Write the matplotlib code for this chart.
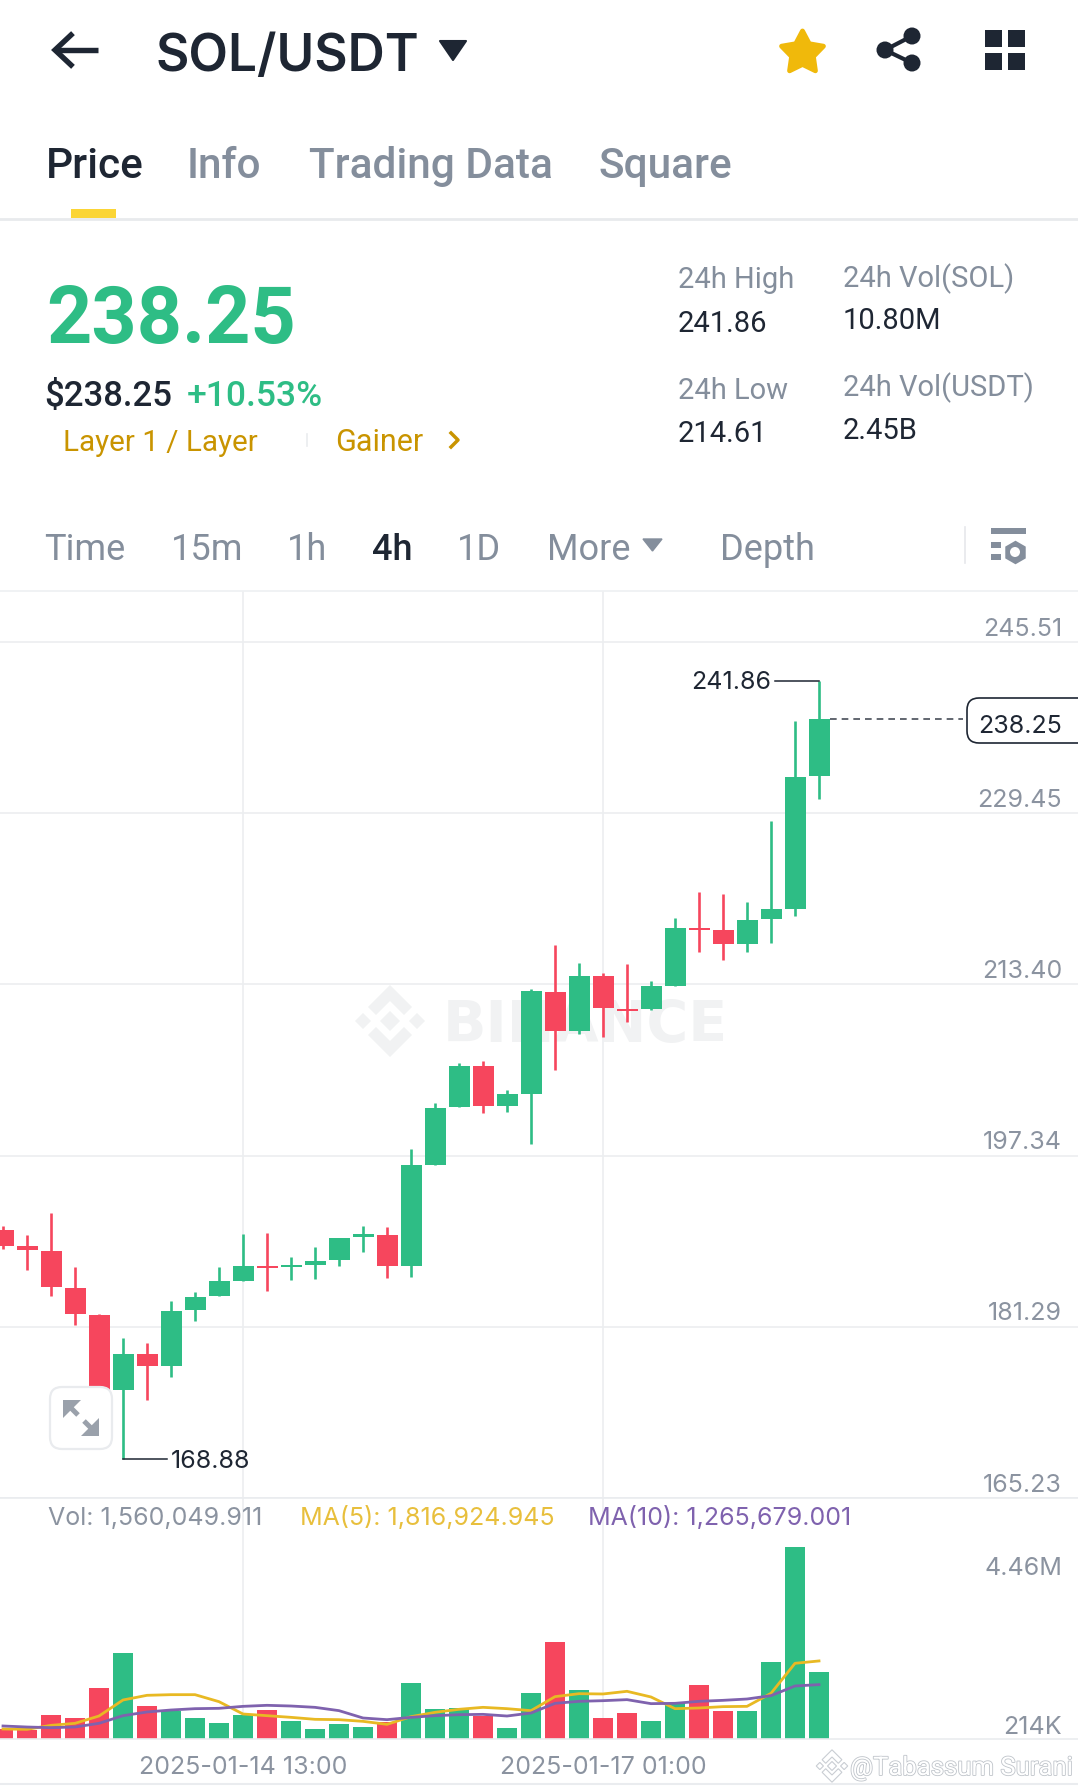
"""Tela do par SOL/USDT: candles de 4h, volume e médias móveis."""

import math

import matplotlib

matplotlib.use("Agg")
import matplotlib.patheffects as pe
import matplotlib.pyplot as plt
from matplotlib.patches import Circle, FancyBboxPatch, Polygon, Rectangle

plt.rcParams["font.family"] = ["Roboto", "DejaVu Sans"]

LARGURA, ALTURA = 1078, 1787

# Candles, um valor por barra de 4h
abertura = [190.38, 188.82, 188.41, 184.91, 182.38, 175.38, 178.72, 177.57, 182.82,
            184.16, 185.60, 186.97, 186.85, 187.07, 187.57, 189.72, 189.91, 186.94,
            196.47, 201.85, 205.78, 201.94, 203.13, 212.69, 209.03, 214.13, 211.07,
            211.07, 213.25, 218.66, 218.50, 217.13, 219.51, 220.48, 232.89]
maxima = [190.69, 189.91, 191.94, 186.91, 182.44, 180.25, 179.72, 183.72, 184.53,
          186.85, 190.00, 190.03, 187.82, 188.72, 189.63, 190.69, 190.63, 197.94,
          202.25, 205.97, 206.22, 203.44, 212.94, 217.07, 215.38, 214.44, 215.28,
          213.75, 219.63, 222.03, 221.85, 221.13, 228.73, 238.11, 241.86]
minima = [188.57, 186.57, 184.13, 181.44, 175.32, 168.88, 174.44, 176.57, 181.85,
          184.16, 185.60, 184.66, 185.69, 185.78, 187.00, 188.32, 185.82, 185.94,
          196.41, 201.85, 201.32, 201.44, 198.44, 205.32, 208.78, 208.50, 209.82,
          210.94, 213.25, 216.38, 215.63, 216.44, 217.26, 219.82, 230.73]
fechamento = [188.88, 188.50, 185.00, 182.44, 175.38, 178.72, 177.57, 182.78, 184.10,
              185.53, 186.97, 186.75, 187.07, 187.47, 189.63, 189.94, 186.94, 196.44,
              201.82, 205.78, 201.94, 203.07, 212.72, 209.03, 214.13, 211.13, 210.85,
              213.19, 218.69, 218.47, 217.13, 219.44, 220.42, 232.86, 238.25]

# Volume em milhões, com cor herdada do candle
volume = [0.233, 0.210, 0.559, 0.489, 1.195, 2.002, 0.768, 0.660, 0.489, 0.365, 0.551,
          0.675, 0.427, 0.233, 0.357, 0.287, 0.388, 1.296, 0.698, 0.714, 0.535, 0.256,
          1.079, 2.250, 1.133, 0.481, 0.598, 0.419, 0.830, 1.249, 0.644, 0.644, 1.785,
          4.470, 1.560]
ma5 = [0.233, 0.225, 0.318, 0.365, 0.535, 0.908, 1.017, 1.032, 1.032, 0.869, 0.582,
       0.543, 0.504, 0.458, 0.450, 0.411, 0.341, 0.520, 0.621, 0.691, 0.737, 0.706,
       0.660, 0.986, 1.055, 1.048, 1.110, 0.978, 0.706, 0.722, 0.753, 0.760, 1.063,
       1.762, 1.817]
ma10 = [0.303, 0.279, 0.264, 0.279, 0.365, 0.543, 0.629, 0.675, 0.706, 0.714, 0.760,
        0.784, 0.768, 0.737, 0.660, 0.489, 0.450, 0.504, 0.543, 0.566, 0.574, 0.535,
        0.605, 0.830, 0.877, 0.892, 0.916, 0.823, 0.830, 0.877, 0.900, 0.931, 1.009,
        1.234, 1.266]

precos_eixo = [245.51, 229.45, 213.40, 197.34, 181.29, 165.23]
datas_indice = [10, 25]
datas_texto = ["2025-01-14 13:00", "2025-01-17 01:00"]
volume_eixo = [4.46, 0.214]
volume_texto = ["4.46M", "214K"]

abas = ["Price", "Info", "Trading Data", "Square"]
abas_x = [46, 187, 309, 598]
periodos = ["Time", "15m", "1h", "4h", "1D", "More", "Depth"]
periodos_x = [44, 171, 287, 372, 457, 547, 720]

VERDE = "#2EBD85"
VERMELHO = "#F6465D"
ESCURO = "#1E2633"
CINZA = "#848E9C"
CINZA_EIXO = "#8B93A0"
GRADE = "#ECEEF0"
OURO = "#C99400"
AMARELO = "#F0B90B"
ROXO = "#7F62AE"
FONTE_NUM = "Inter"


def eixo_px(fig, topo, base, zorder=1):
    """Cria um eixo de largura total entre duas linhas de pixel."""
    return fig.add_axes(
        [0, 1 - base / ALTURA, 1, (base - topo) / ALTURA], zorder=zorder, facecolor="none"
    )


def limpa(ax):
    for lado in ax.spines.values():
        lado.set_visible(False)
    ax.tick_params(length=0, labelleft=False, labelbottom=False)


def logo(ax, cx, cy, esc, fc, ec="none", lw=0):
    """Losangos do logotipo da corretora, centrados em (cx, cy)."""
    formas = [
        [(0, -10), (10, 0), (0, 10), (-10, 0)],
        [(-27, -8), (-19, 0), (-27, 8), (-35, 0)],
        [(27, -8), (35, 0), (27, 8), (19, 0)],
        [(-22, -14), (0, -36), (22, -14), (14, -6), (0, -20), (-14, -6)],
        [(-22, 14), (0, 36), (22, 14), (14, 6), (0, 20), (-14, 6)],
    ]
    for forma in formas:
        pontos = [(cx + x * esc, cy + y * esc) for x, y in forma]
        ax.add_patch(Polygon(pontos, closed=True, fc=fc, ec=ec, lw=lw))


def estrela(ax, cx, cy, raio, cor):
    """Estrela gorda de pontas arredondadas."""
    pontos = []
    for k in range(10):
        r = raio if k % 2 == 0 else raio * 0.52
        ang = math.radians(-90 + 36 * k)
        pontos.append((cx + r * math.cos(ang), cy + r * math.sin(ang)))
    ax.add_patch(Polygon(pontos, closed=True, fc=cor, ec=cor, lw=3.5, joinstyle="round"))


fig = plt.figure(figsize=(LARGURA / 100, ALTURA / 100), dpi=100, facecolor="white")

fundo = eixo_px(fig, 0, ALTURA, zorder=0)
fundo.set_xlim(0, LARGURA)
fundo.set_ylim(ALTURA, 0)
fundo.axis("off")
logo(fundo, 390, 1021, 1, "#F1F2F3")
fundo.text(443, 1042, "BINANCE", fontsize=41, fontweight="bold", color="#F1F2F3",
           va="baseline", family="DejaVu Sans")

# Painel de preço: 10.665 px por dólar, 591 até 1498
ax = eixo_px(fig, 591, 1498)
ax.set_ylim(165.23, 250.27)
ax.set_xlim(-3 / 24, (LARGURA - 3) / 24)
limpa(ax)
ax.set_yticks(precos_eixo)
ax.set_xticks(datas_indice)
ax.grid(True, color=GRADE, lw=1.2)
ax.set_axisbelow(True)

indices = list(range(len(abertura)))
cores = [VERDE if c >= a else VERMELHO for a, c in zip(abertura, fechamento)]
ax.vlines(indices, minima, maxima, colors=cores, lw=1.9, zorder=2)
ax.bar(
    indices,
    [max(abs(c - a), 0.2) for a, c in zip(abertura, fechamento)],
    bottom=[min(a, c) for a, c in zip(abertura, fechamento)],
    width=0.875,
    color=cores,
    zorder=3,
)

for preco in precos_eixo:
    ax.annotate(
        f"{preco:.2f}",
        xy=(1, preco),
        xycoords=("axes fraction", "data"),
        xytext=(-11.5, 4.5),
        textcoords="offset points",
        ha="right",
        va="baseline",
        fontsize=18,
        color=CINZA_EIXO,
        family=FONTE_NUM,
    )

# Máxima, mínima e último preço
i_max = maxima.index(max(maxima))
i_min = minima.index(min(minima))
ax.plot([i_max, i_max - 1.85], [maxima[i_max]] * 2, color=ESCURO, lw=1.1, zorder=4)
ax.plot([i_min, i_min + 1.85], [minima[i_min]] * 2, color=ESCURO, lw=1.1, zorder=4)
ax.annotate(f"{maxima[i_max]:.2f}", xy=(i_max - 2.0, maxima[i_max]), xytext=(0, -1.5),
            textcoords="offset points", ha="right", va="center", fontsize=18, color=ESCURO,
            zorder=5, family=FONTE_NUM)
ax.annotate(f"{minima[i_min]:.2f}", xy=(i_min + 2.0, minima[i_min]), xytext=(0, -1.5),
            textcoords="offset points", ha="left", va="center", fontsize=18, color=ESCURO,
            zorder=5, family=FONTE_NUM)
ax.plot([len(abertura) - 0.55, 40], [fechamento[-1]] * 2, color="#474D57", lw=1.2,
        ls=(0, (4, 3)), zorder=4)

# Painel de volume
vol = eixo_px(fig, 1498, 1739)
vol.set_ylim(0, 5.61)
vol.set_xlim(ax.get_xlim())
limpa(vol)
vol.set_yticks([])
vol.set_xticks(datas_indice, datas_texto, family=FONTE_NUM)
vol.tick_params(labelbottom=True, pad=12, labelsize=18, labelcolor=CINZA_EIXO)
vol.grid(True, axis="x", color=GRADE, lw=1.2)
vol.set_axisbelow(True)
vol.bar(indices, volume, width=0.86, color=cores, zorder=2)
vol.plot(indices, ma5, color="#E8B923", lw=2, zorder=3, solid_joinstyle="round")
vol.plot(indices, ma10, color=ROXO, lw=2, zorder=4, solid_joinstyle="round")

for valor, texto, desloc in zip(volume_eixo, volume_texto, [-20, -3]):
    vol.annotate(texto, xy=(1, valor), xycoords=("axes fraction", "data"), xytext=(-11.5, desloc),
                 textcoords="offset points", ha="right", va="baseline", fontsize=18,
                 color=CINZA_EIXO, family=FONTE_NUM)

# Camada de interface em pixels
ui = eixo_px(fig, 0, ALTURA, zorder=5)
ui.set_xlim(0, LARGURA)
ui.set_ylim(ALTURA, 0)
ui.axis("off")

for y, cor, esp in [(219, "#E8EAED", 2.0), (591, "#EEF0F2", 1.2), (1498, "#EAECEF", 1.2),
                    (1739, "#EAECEF", 1.2), (1784, "#EAECEF", 1.5)]:
    ui.plot([0, LARGURA], [y, y], color=cor, lw=esp, zorder=0)

# Cabeçalho
ui.plot([57, 98], [50, 50], color=ESCURO, lw=3.9, solid_capstyle="butt")
ui.plot([71, 55, 71], [35, 50, 65], color=ESCURO, lw=3.9, solid_joinstyle="miter")
ui.text(155, 71, "SOL/USDT", fontsize=37, fontweight="semibold", color=ESCURO, va="baseline",
        family=FONTE_NUM)
ui.add_patch(Polygon([(440, 41), (466, 41), (453, 60)], closed=True, fc=ESCURO, ec=ESCURO, lw=1.5, joinstyle="round"))
estrela(ui, 802.5, 53, 22, AMARELO)
ui.plot([912, 885, 912], [36, 50, 63], color=ESCURO, lw=3)
for cx, cy, r in [(912, 36, 8.5), (885, 50, 8.5), (912, 63, 8.5)]:
    ui.add_patch(Circle((cx, cy), r, fc=ESCURO, ec="none"))
for x0, y0 in [(985, 30), (1008, 30), (985, 53), (1008, 53)]:
    ui.add_patch(Rectangle((x0, y0), 17, 17, fc=ESCURO, ec="none"))

# Abas
for nome, x, cor in zip(abas, abas_x, [ESCURO] + [CINZA] * 3):
    ui.text(x, 178, nome, fontsize=30.5, fontweight="medium", color=cor, va="baseline")
ui.add_patch(Rectangle((71, 209), 45, 9, fc="#FBD536", ec="none"))

# Resumo do preço
ui.text(46, 343, f"{fechamento[-1]:.2f}", fontsize=57, fontweight="bold", color=VERDE, va="baseline")
ui.text(44, 406, f"${fechamento[-1]:.2f}", fontsize=25, fontweight="medium", color=ESCURO, va="baseline")
ui.text(187, 406, "+10.53%", fontsize=25.5, fontweight="medium", color=VERDE, va="baseline")
ui.text(63, 451, "Layer 1 / Layer", fontsize=21.3, color=OURO, va="baseline")
ui.plot([307, 307], [434, 446], color="#EAECEF", lw=1.2)
ui.text(335, 451, "Gainer", fontsize=22, color=OURO, va="baseline")
ui.plot([451, 458, 451], [433, 440, 447], color=OURO, lw=2.5)

for x, y, texto, cor in [
    (678, 288, "24h High", CINZA), (678, 332, "241.86", ESCURO),
    (678, 399, "24h Low", CINZA), (678, 442, "214.61", ESCURO),
    (843, 287, "24h Vol(SOL)", CINZA), (843, 329, "10.80M", ESCURO),
    (843, 396, "24h Vol(USDT)", CINZA), (843, 439, "2.45B", ESCURO),
]:
    ui.text(x, y, texto, fontsize=21, color=cor, va="baseline")

# Seletor de períodos
for nome, x in zip(periodos, periodos_x):
    ativo = nome == "4h"
    ui.text(x, 560, nome, fontsize=26, color=ESCURO if ativo else CINZA,
            fontweight="medium" if ativo else "normal", va="baseline")
ui.add_patch(Polygon([(643, 539), (662, 539), (652.5, 551)], closed=True, fc=CINZA, ec=CINZA, lw=1))
ui.plot([965, 965], [527, 563], color="#E6E8EB", lw=1.2)
ui.add_patch(Rectangle((991, 528), 35, 6, fc=CINZA, ec="none"))
ui.add_patch(Rectangle((991, 542), 10, 6, fc=CINZA, ec="none"))
ui.add_patch(Rectangle((991, 554), 10, 6, fc=CINZA, ec="none"))
ui.plot([1015], [552], marker="h", ms=17, color=CINZA, mew=0)
ui.add_patch(Circle((1015, 552), 5, fc="white", ec="none", zorder=4))

# Botão de expandir sobre o gráfico
ui.add_patch(FancyBboxPatch((50, 1387), 62, 62, boxstyle="round,pad=0,rounding_size=12",
                            fc="white", ec="#E9EBEE", lw=1.6))
cinza_seta = "#9AA1AB"
ui.add_patch(Polygon([(63, 1400), (81, 1400), (63, 1418)], closed=True, fc=cinza_seta, ec="none"))
ui.add_patch(Polygon([(99, 1436), (81, 1436), (99, 1418)], closed=True, fc=cinza_seta, ec="none"))
ui.plot([68, 78], [1405, 1415], color=cinza_seta, lw=3.6, solid_capstyle="butt")
ui.plot([84, 94], [1421, 1431], color=cinza_seta, lw=3.6, solid_capstyle="butt")

# Etiqueta do último preço
ui.add_patch(FancyBboxPatch((967, 698), 130, 45, boxstyle="round,pad=0,rounding_size=12",
                            fc="white", ec=ESCURO, lw=1.2))
ui.text(1062, 733, f"{fechamento[-1]:.2f}", fontsize=18, color=ESCURO, ha="right", va="baseline",
        family=FONTE_NUM)

# Legenda do volume
ui.text(48, 1525, "Vol: 1,560,049.911", fontsize=18, color=CINZA_EIXO, va="baseline", family=FONTE_NUM)
ui.text(300, 1525, "MA(5): 1,816,924.945", fontsize=18, color="#E8BF3C", va="baseline", family=FONTE_NUM)
ui.text(588, 1525, "MA(10): 1,265,679.001", fontsize=18, color=ROXO, va="baseline", family=FONTE_NUM)

# Marca d'água do rodapé
logo(ui, 832, 1766, 0.45, "white", ec="#C9CDD3", lw=0.8)
ui.text(850, 1775, "@Tabassum Surani", fontsize=18.5, color="white", va="baseline",
        path_effects=[pe.withStroke(linewidth=1.2, foreground="#BFC4CA")])

fig.savefig("out.png", dpi=100)
